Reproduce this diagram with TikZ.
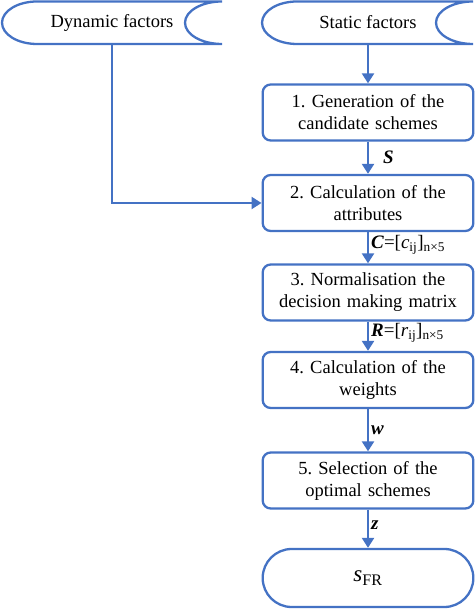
\documentclass[tikz,border=0pt]{standalone}
\usepackage{fontspec}
\setmainfont{Liberation Serif}
\frenchspacing
\usetikzlibrary{arrows.meta}
\definecolor{flowblue}{RGB}{68,114,196}
\tikzset{
  stepbox/.style={draw=flowblue, line width=2.3pt, rounded corners=8pt, fill=white,
    minimum width=210pt, minimum height=56pt, text width=204pt, align=center,
    font=\fontsize{18.5}{22}\selectfont},
  source/.style={minimum width=210pt, minimum height=43pt, inner sep=0pt,
    font=\fontsize{18.5}{22}\selectfont},
  flow/.style={draw=flowblue, line width=2.3pt, -{Triangle[width=12pt,length=10pt]}},
  lbl/.style={right, font=\fontsize{19}{22}\selectfont, inner sep=2pt},
}
\begin{document}
\begin{tikzpicture}[x=1pt,y=1pt]
    \useasboundingbox (0,0) rectangle (474,609);

    % stored data shapes for the two kinds of factors
    \draw[flowblue, line width=2.3pt] (37,607.5) -- (222,607.5)
        arc[start angle=90, end angle=270, x radius=37, y radius=21.25] -- (37,565)
        arc[start angle=270, end angle=90, x radius=35, y radius=21.25] -- cycle;
    \draw[flowblue, line width=2.3pt] (297,607.5) -- (473,607.5)
        arc[start angle=90, end angle=270, x radius=37, y radius=21.25] -- (297,565)
        arc[start angle=270, end angle=90, x radius=35, y radius=21.25] -- cycle;
    \node[source] (dyn) at (112,586.5) {Dynamic factors};
    \node[source] (stat) at (368,586.5) {Static factors};

    \node[stepbox] (gen) at (368,496.5) {1. Generation of the\\candidate schemes};
    \node[stepbox] (attr) at (368,406) {2. Calculation of the\\attributes};
    \node[stepbox] (norm) at (368,316.5) {3. Normalisation the\\decision making matrix};
    \node[stepbox] (wgt) at (368,229) {4. Calculation of the\\weights};
    \node[stepbox] (sel) at (368,128.5) {5. Selection of the\\optimal schemes};
    \node[stepbox, rounded corners=29pt, minimum height=58pt,
        font=\fontsize{23}{24}\selectfont] (sfr) at (368,31)
        {\textit{s}\textsubscript{FR}};

    \draw[flow] (stat.south) -- (gen.north);
    \draw[flow] (dyn.south) |- (attr.west);
    \draw[flow] (gen) -- node[lbl, xshift=12pt] {\textbf{\textit{S}}} (attr);
    \draw[flow] (attr) -- node[lbl, yshift=3pt]
        {\textbf{\textit{C}}=[\textit{c}\textsubscript{ij}]\textsubscript{n×5}} (norm);
    \draw[flow] (norm) -- node[lbl, yshift=3pt]
        {\textbf{\textit{R}}=[\textit{r}\textsubscript{ij}]\textsubscript{n×5}} (wgt);
    \draw[flow] (wgt) -- node[lbl] {\textbf{\textit{w}}} (sel);
    \draw[flow] (sel) -- node[lbl, yshift=4pt] {\textbf{\textit{z}}} (sfr);
\end{tikzpicture}
\end{document}
